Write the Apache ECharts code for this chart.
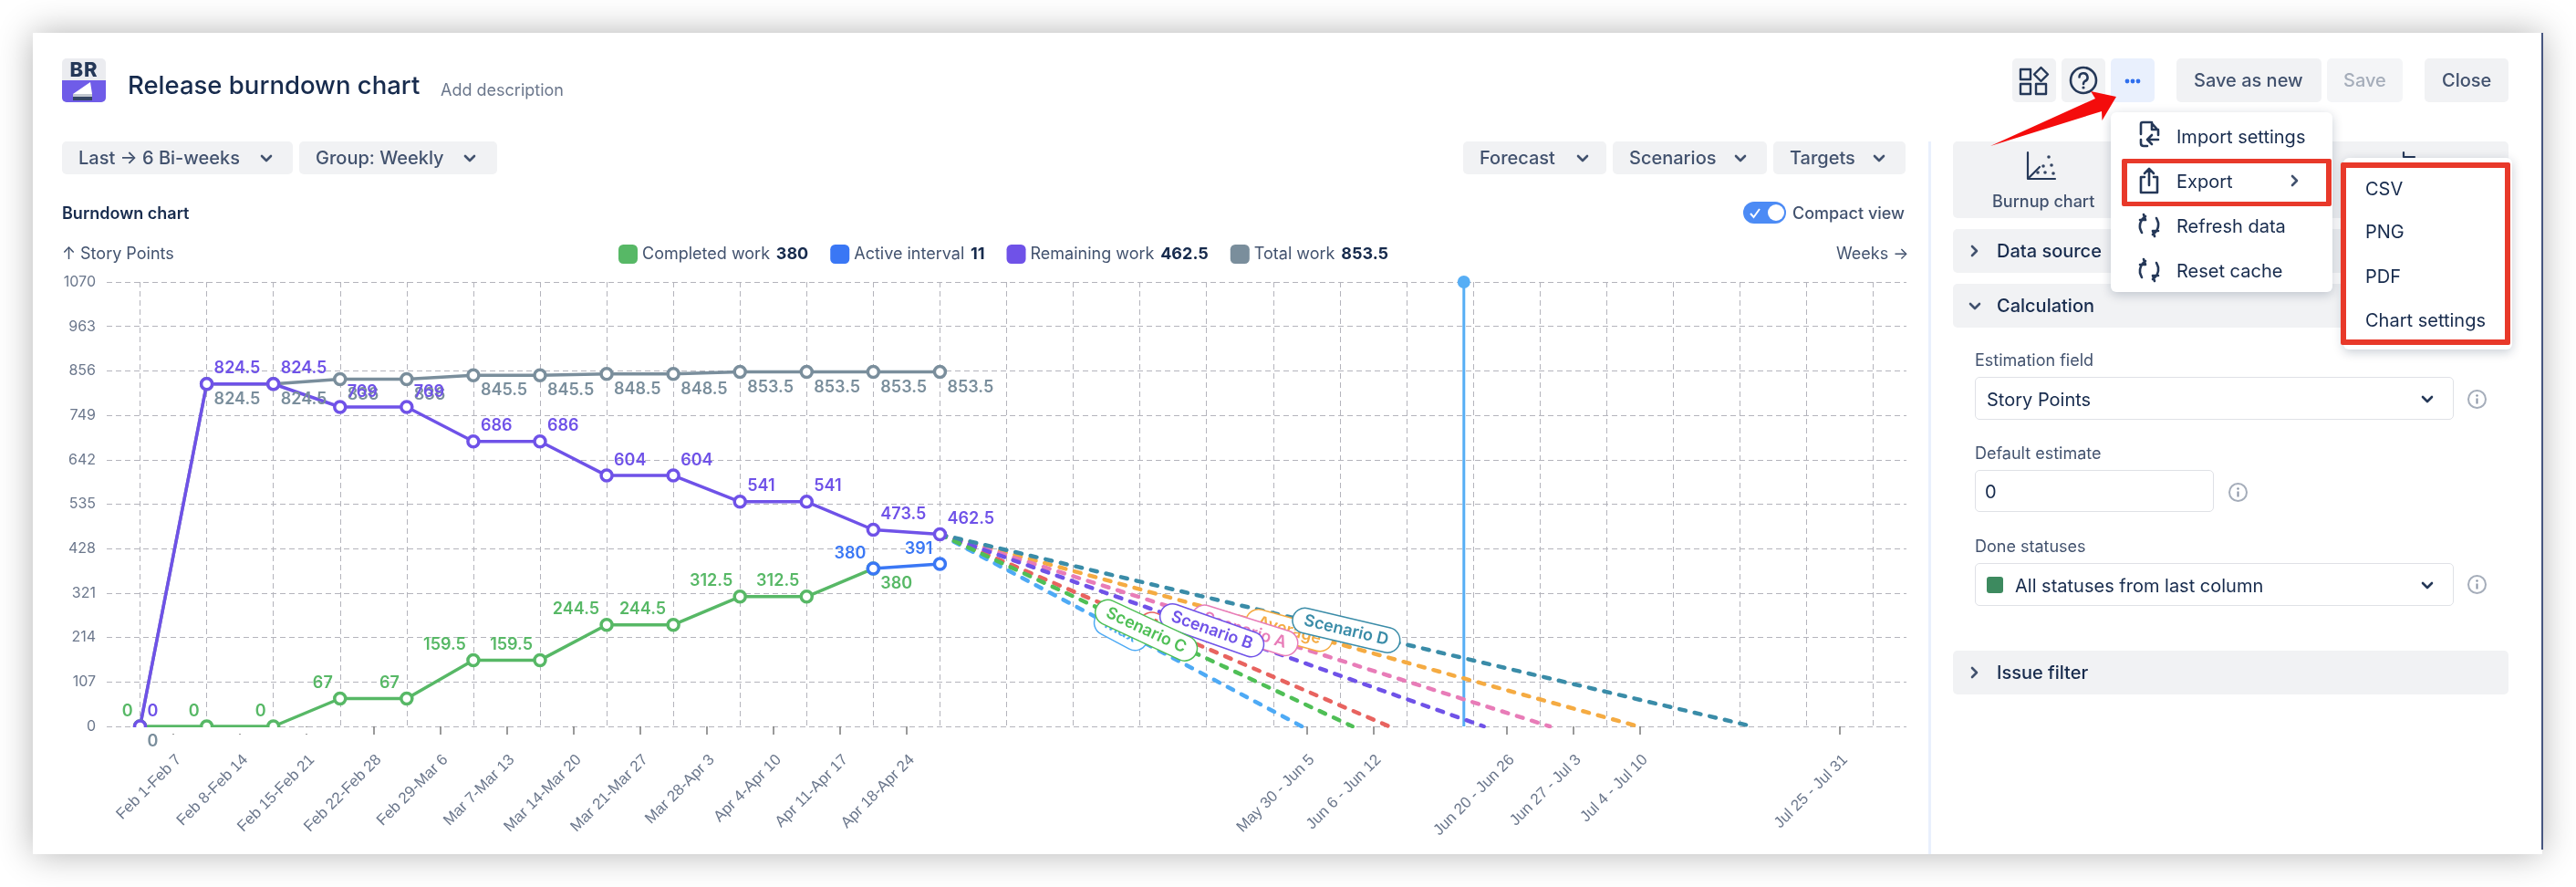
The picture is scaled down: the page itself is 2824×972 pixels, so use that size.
<!DOCTYPE html>
<html>
<head>
<meta charset="utf-8">
<title>Release burndown chart</title>
<script src="https://cdn.jsdelivr.net/npm/echarts@6/dist/echarts.min.js"></script>
<style>
    html, body { margin: 0; padding: 0; width: 2824px; height: 972px; background: #fff; overflow: hidden; font-family: Inter, sans-serif; color: #172b4d; }
    .card { position: absolute; left: 36px; top: 36px; width: 2751px; height: 900px; background: #fff; box-shadow: 0 0 36px rgba(0,0,0,.3); }
    .edge { position: absolute; left: 2786px; top: 36px; width: 2px; height: 895px; background: #46557f; }
    #chart { position: absolute; left: 0; top: 0; width: 2824px; height: 972px; z-index: 1; }
    .ui { position: absolute; left: 0; top: 0; width: 2824px; height: 972px; z-index: 2; pointer-events: none; }
    .t { position: absolute; white-space: nowrap; line-height: 28px; font-size: 20px; }
    .s { font-size: 18px; color: #42526e; }
    .btn { position: absolute; background: #f1f2f4; border-radius: 5px; }
    .btn .t { color: #42526e; font-weight: 500; }
    .head { position: absolute; left: 2141px; width: 609px; height: 48px; background: #f1f2f4; border-radius: 5px; }
    .head .t { left: 48px; top: 10px; font-weight: 500; }
    .box { position: absolute; background: #fff; border: 1.5px solid #dfe1e6; border-radius: 5px; box-sizing: border-box; }
    .red { position: absolute; box-sizing: border-box; border: 6px solid #e8392a; border-radius: 2px; }
    svg { position: absolute; overflow: visible; }
    .chev { fill: none; stroke: #42526e; stroke-width: 2.6; stroke-linecap: round; stroke-linejoin: round; }
    .ico { fill: none; stroke: #253858; stroke-width: 2.6; stroke-linecap: round; stroke-linejoin: round; }
</style>
</head>
<body>
<div class="card"></div>
<div class="edge"></div>
<div id="chart"></div>
<div class="ui">
    <!-- title -->
    <div style="position:absolute;left:68px;top:64px;width:48px;height:48px;border-radius:5px;overflow:hidden;background:#ebecf0;">
        <div style="position:absolute;left:0;right:0;top:0;text-align:center;font-weight:800;font-size:22px;letter-spacing:1px;line-height:25px;color:#253858;">BR</div>
        <div style="position:absolute;left:0;right:0;top:24px;height:24px;background:#6f5ce8;"></div>
        <svg style="left:0;top:24px" width="48" height="24"><path d="M31 2 L12 15 L33 15 Z" fill="#fff"/><path d="M12 15 L33 15 L33 18 L12 18 Z" fill="#c1c7d0"/><path d="M12 18 L33 18 L33 22 L12 22 Z" fill="#344563"/></svg>
    </div>
    <div class="t" style="left:140px;top:79px;font-size:27.5px;font-weight:500;">Release burndown chart</div>
    <div class="t s" style="left:483px;top:85px;color:#6b778c;">Add description</div>

    <!-- filters -->
    <div class="btn" style="left:68px;top:155px;width:253px;height:36px;"><div class="t" style="left:18px;top:4px;">Last → 6 Bi-weeks</div><svg style="left:217px;top:15px" width="14" height="8"><path class="chev" d="M2 1 L7 6 L12 1"/></svg></div>
    <div class="btn" style="left:328px;top:155px;width:217px;height:36px;"><div class="t" style="left:18px;top:4px;">Group: Weekly</div><svg style="left:180px;top:15px" width="14" height="8"><path class="chev" d="M2 1 L7 6 L12 1"/></svg></div>
    <div class="btn" style="left:1604px;top:155px;width:157px;height:36px;"><div class="t" style="left:18px;top:4px;">Forecast</div><svg style="left:124px;top:15px" width="14" height="8"><path class="chev" d="M2 1 L7 6 L12 1"/></svg></div>
    <div class="btn" style="left:1768px;top:155px;width:169px;height:36px;"><div class="t" style="left:18px;top:4px;">Scenarios</div><svg style="left:133px;top:15px" width="14" height="8"><path class="chev" d="M2 1 L7 6 L12 1"/></svg></div>
    <div class="btn" style="left:1944px;top:155px;width:145px;height:36px;"><div class="t" style="left:18px;top:4px;">Targets</div><svg style="left:109px;top:15px" width="14" height="8"><path class="chev" d="M2 1 L7 6 L12 1"/></svg></div>

    <!-- chart header -->
    <div class="t" style="left:68px;top:220px;font-size:18px;font-weight:600;">Burndown chart</div>
    <div style="position:absolute;left:1911px;top:221px;width:47px;height:24px;border-radius:12px;background:#4c8bf5;"></div>
    <div style="position:absolute;left:1938px;top:224px;width:18px;height:18px;border-radius:9px;background:#fff;"></div>
    <svg style="left:1918px;top:228px" width="14" height="12"><path d="M1 6 L4.5 10 L11 1" fill="none" stroke="#fff" stroke-width="2"/></svg>
    <div class="t s" style="left:1965px;top:220px;font-weight:500;">Compact view</div>
    <div class="t s" style="left:68px;top:264px;color:#42526e;">↑ Story Points</div>
    <div class="t s" style="left:2013px;top:264px;">Weeks →</div>

    <!-- toolbar -->
    <div class="btn" style="left:2206px;top:64px;width:48px;height:48px;"><svg style="left:8px;top:9px" width="32" height="32"><g class="ico" style="stroke-width:2.4"><rect x="1" y="3" width="11" height="11"/><rect x="1" y="19" width="11" height="11"/><rect x="18" y="19" width="11" height="11"/><path d="M23.5 1 L31 8.5 L23.5 16 L16 8.5 Z"/></g></svg></div>
    <div class="btn" style="left:2260px;top:64px;width:48px;height:48px;"><svg style="left:9px;top:9px" width="30" height="30"><circle class="ico" cx="15" cy="15" r="14"/><path class="ico" d="M10.5 11.5 A4.5 4.5 0 1 1 16.5 16 Q15 17 15 19"/><circle cx="15" cy="23" r="1.6" fill="#253858"/></svg></div>
    <div class="btn" style="left:2314px;top:64px;width:48px;height:48px;background:#e9f0fd;"><svg style="left:15px;top:22px" width="18" height="6"><circle cx="3" cy="3" r="2.4" fill="#2f6fed"/><circle cx="9" cy="3" r="2.4" fill="#2f6fed"/><circle cx="15" cy="3" r="2.4" fill="#2f6fed"/></svg></div>
    <div class="btn" style="left:2386px;top:64px;width:159px;height:48px;"><div class="t" style="left:19px;top:10px;">Save as new</div></div>
    <div class="btn" style="left:2551px;top:64px;width:83px;height:48px;background:#f4f5f7;"><div class="t" style="left:18px;top:10px;color:#a5adba;">Save</div></div>
    <div class="btn" style="left:2658px;top:64px;width:92px;height:48px;"><div class="t" style="left:19px;top:10px;">Close</div></div>

    <!-- side panel -->
    <div style="position:absolute;left:2114px;top:155px;width:3px;height:781px;background:#e9f0fd;"></div>
    <div class="btn" style="left:2141px;top:155px;width:609px;height:84px;">
        <svg style="left:81px;top:12px" width="32" height="30"><path class="ico" d="M1 0 L1 29 L31 29 M3 27 L14 16" style="stroke-width:2.2"/><g fill="#344563"><circle cx="12" cy="22" r="1.8"/><circle cx="20" cy="22" r="1.8"/><circle cx="29" cy="23" r="1.8"/><circle cx="18" cy="15" r="1.8"/><circle cx="27" cy="14" r="1.8"/><circle cx="24" cy="5" r="1.8"/></g></svg>
        <div class="t s" style="left:43px;top:52px;font-weight:500;">Burnup chart</div>
        <svg style="left:493px;top:12px" width="13" height="6"><path class="ico" d="M1 0 L1 5 L13 5" style="stroke-width:2.2"/></svg>
    </div>
    <div class="head" style="top:251px;"><svg style="left:19px;top:17px" width="10" height="14"><path class="chev" d="M2 2 L7 7 L2 12"/></svg><div class="t">Data source</div></div>
    <div class="head" style="top:311px;"><svg style="left:17px;top:20px" width="14" height="10"><path class="chev" d="M2 2 L7 7 L12 2"/></svg><div class="t">Calculation</div></div>

    <div class="t s" style="left:2165px;top:381px;">Estimation field</div>
    <div class="box" style="left:2165px;top:413px;width:525px;height:47px;"></div>
    <div class="t" style="left:2178px;top:424px;">Story Points</div>
    <svg style="left:2654px;top:433px" width="14" height="10"><path class="chev" d="M2 2 L7 7 L12 2" style="stroke:#253858"/></svg>
    <svg style="left:2705px;top:427px" width="21" height="21"><circle cx="10.5" cy="10.5" r="9.5" fill="none" stroke="#a5adba" stroke-width="2"/><path d="M10.5 9.5 L10.5 15.5" stroke="#8993a4" stroke-width="2"/><circle cx="10.5" cy="6.5" r="1.2" fill="#8993a4"/></svg>

    <div class="t s" style="left:2165px;top:483px;">Default estimate</div>
    <div class="box" style="left:2165px;top:515px;width:262px;height:46px;"></div>
    <div class="t" style="left:2176px;top:525px;">0</div>
    <svg style="left:2442.5px;top:529px" width="21" height="21"><circle cx="10.5" cy="10.5" r="9.5" fill="none" stroke="#a5adba" stroke-width="2"/><path d="M10.5 9.5 L10.5 15.5" stroke="#8993a4" stroke-width="2"/><circle cx="10.5" cy="6.5" r="1.2" fill="#8993a4"/></svg>

    <div class="t s" style="left:2165px;top:585px;">Done statuses</div>
    <div class="box" style="left:2165px;top:617px;width:525px;height:47px;"></div>
    <div style="position:absolute;left:2178px;top:632px;width:18px;height:18px;border-radius:3px;background:#3d8a5f;"></div>
    <div class="t" style="left:2209px;top:628px;">All statuses from last column</div>
    <svg style="left:2654px;top:637px" width="14" height="10"><path class="chev" d="M2 2 L7 7 L12 2" style="stroke:#253858"/></svg>
    <svg style="left:2705px;top:630px" width="21" height="21"><circle cx="10.5" cy="10.5" r="9.5" fill="none" stroke="#a5adba" stroke-width="2"/><path d="M10.5 9.5 L10.5 15.5" stroke="#8993a4" stroke-width="2"/><circle cx="10.5" cy="6.5" r="1.2" fill="#8993a4"/></svg>

    <div class="head" style="top:713px;"><svg style="left:19px;top:17px" width="10" height="14"><path class="chev" d="M2 2 L7 7 L2 12"/></svg><div class="t">Issue filter</div></div>

    <!-- open menu -->
    <div style="position:absolute;left:2314px;top:123px;width:243px;height:197px;background:#fff;border-radius:6px;box-shadow:0 3px 12px rgba(9,30,66,.22);"></div>
    <svg style="left:2342px;top:133px" width="26" height="28"><path class="ico" d="M5 14 L5 3 Q5 1 7 1 L16 1 L24 10 L24 15 M17 1 L17 9 L24 9 M5 20 L5 24 Q5 27 8 27 L12 27 M24 20 L12 20 M17 15 L12 20 L17 25"/></svg>
    <div class="t" style="left:2386px;top:136px;">Import settings</div>
    <svg style="left:2345px;top:183px" width="22" height="30"><path class="ico" d="M6 11 L2 11 L2 28 L20 28 L20 11 L16 11 M11 20 L11 2 M6 7 L11 2 L16 7"/></svg>
    <div class="t" style="left:2386px;top:185px;">Export</div>
    <svg style="left:2511px;top:191px" width="10" height="14"><path class="chev" d="M2 2 L7 7 L2 12" style="stroke:#42526e"/></svg>
    <svg style="left:2344px;top:234px" width="24" height="26"><path class="ico" d="M8 3 Q1 8 2 16 Q3 19 4 21 M6 1 L8 7 L2 7 M16 23 Q23 18 22 10 Q21 7 20 5 M18 25 L16 19 L22 19"/></svg>
    <div class="t" style="left:2386px;top:234px;">Refresh data</div>
    <svg style="left:2344px;top:283px" width="24" height="26"><path class="ico" d="M8 3 Q1 8 2 16 Q3 19 4 21 M6 1 L8 7 L2 7 M16 23 Q23 18 22 10 Q21 7 20 5 M18 25 L16 19 L22 19"/></svg>
    <div class="t" style="left:2386px;top:283px;">Reset cache</div>
    <div class="red" style="left:2326px;top:174px;width:230px;height:52px;border-width:5px 6px;"></div>

    <div style="position:absolute;left:2569px;top:173px;width:185px;height:210px;background:#fff;border-radius:6px;box-shadow:0 3px 12px rgba(9,30,66,.22);"></div>
    <div class="t" style="left:2593px;top:193px;">CSV</div>
    <div class="t" style="left:2593px;top:240px;">PNG</div>
    <div class="t" style="left:2593px;top:289px;">PDF</div>
    <div class="t" style="left:2593px;top:337px;">Chart settings</div>
    <div class="red" style="left:2566px;top:178px;width:186px;height:200px;"></div>

    <svg style="left:0;top:0" width="2824" height="972"><polygon points="2320,106 2292,100 2297,108 2182,160 2304,122 2304.5,132" fill="#f40c0c"/></svg>
</div>

<script>
    // x positions are in weeks counted from the left plot edge
    var weekPos = [0.5, 1.5, 2.5, 3.5, 4.5, 5.5, 6.5, 7.5, 8.5, 9.5, 10.5, 11.5, 12.5];
    var completedWork = [0, 0, 0, 67, 67, 159.5, 159.5, 244.5, 244.5, 312.5, 312.5, 380];
    var activeInterval = [380, 391];
    var remainingWork = [0, 824.5, 824.5, 769, 769, 686, 686, 604, 604, 541, 541, 473.5, 462.5];
    var totalWork = [0, 824.5, 824.5, 836, 836, 845.5, 845.5, 848.5, 848.5, 853.5, 853.5, 853.5, 853.5];

    var scenarioNames = ['Max', 'Min', 'Average', 'Scenario A', 'Scenario B', 'Scenario C', 'Scenario D'];
    var scenarioEnds = [17.93, 19.24, 22.98, 21.65, 20.66, 18.69, 24.69];
    var scenarioColors = ['#4eaaf5', '#e8635f', '#f5ab42', '#e87cb8', '#6f52e8', '#4fbf56', '#3a8ca8'];

    var todayPos = 20.36;

    var tickPos = [1, 2, 3, 4, 5, 6, 7, 8, 9, 10, 11, 12, 18, 19, 21, 22, 23, 26];
    var tickLabels = ['Feb 1-Feb 7', 'Feb 8-Feb 14', 'Feb 15-Feb 21', 'Feb 22-Feb 28', 'Feb 29-Mar 6', 'Mar 7-Mar 13',
        'Mar 14-Mar 20', 'Mar 21-Mar 27', 'Mar 28-Apr 3', 'Apr 4-Apr 10', 'Apr 11-Apr 17', 'Apr 18-Apr 24',
        'May 30 - Jun 5', 'Jun 6 - Jun 12', 'Jun 20 - Jun 26', 'Jun 27 - Jul 3', 'Jul 4 - Jul 10', 'Jul 25 - Jul 31'];
    var gridWeeks = [];
    for (var w = 0; w < 27; w++) { gridWeeks.push(w); }

    var legendValues = { 'Completed work': '380', 'Active interval': '11', 'Remaining work': '462.5', 'Total work': '853.5' };
    var colors = { green: '#57b866', blue: '#3a77f5', purple: '#6f52e8', gray: '#7a8e9c' };

    var GRID = { left: 117, right: 2090, top: 309, bottom: 796 };

    // label layouts used by the measured series
    function labelAt(side, color) {
        var below = side.indexOf('below') === 0;
        var left = side.indexOf('Left') > 0;
        return {
            show: true,
            position: below ? 'bottom' : 'top',
            distance: 0,
            align: left ? 'right' : 'left',
            offset: [left ? -8 : 8, 0],
            color: color,
            fontFamily: 'Inter',
            fontSize: 18,
            fontWeight: 600,
            lineHeight: 18
        };
    }

    function mark(name, xs, ys, color, side, sides) {
        return {
            name: name,
            type: 'line',
            xAxisIndex: 0,
            yAxisIndex: 0,
            data: ys.map(function (y, i) {
                var d = { value: [xs[i], y] };
                if (sides && sides[i]) { d.label = labelAt(sides[i], color); }
                return d;
            }),
            symbol: 'circle',
            symbolSize: 12,
            showAllSymbol: true,
            lineStyle: { color: color, width: 3.5 },
            itemStyle: { color: '#fff', borderColor: color, borderWidth: 3.5 },
            label: labelAt(side, color),
            emphasis: { disabled: true }
        };
    }

    var series = [];
    series.push({
        name: 'Today',
        type: 'line',
        data: [{ value: [todayPos, 0], symbol: 'none' }, { value: [todayPos, 1070] }],
        symbol: 'circle',
        symbolSize: 14,
        clip: false,
        lineStyle: { color: '#57aef5', width: 3 },
        itemStyle: { color: '#57aef5' },
        emphasis: { disabled: true }
    });
    series.push(mark('Total work', weekPos, totalWork, colors.gray, 'belowRight'));
    series.push(mark('Completed work', weekPos, completedWork, colors.green, 'aboveLeft', { 11: 'belowRight' }));
    series.push(mark('Remaining work', weekPos, remainingWork, colors.purple, 'aboveRight'));
    series.push(mark('Active interval', weekPos.slice(11), activeInterval, colors.blue, 'aboveLeft'));

    scenarioNames.forEach(function (name, i) {
        var x0 = weekPos[12], y0 = remainingWork[12];
        series.push({
            name: name,
            type: 'line',
            z: 3,
            data: [[x0, y0], [scenarioEnds[i], 0]],
            symbol: 'none',
            lineStyle: { color: scenarioColors[i], width: 4.5, type: [7, 10], cap: 'round' },
            emphasis: { disabled: true },
            markLine: {
                silent: true,
                symbol: 'none',
                animation: false,
                z: 20 + i,
                lineStyle: { width: 0, color: 'transparent' },
                label: {
                    show: true,
                    position: 'middle',
                    distance: 0,
                    verticalAlign: 'middle',
                    formatter: name,
                    color: scenarioColors[i],
                    fontFamily: 'Inter',
                    fontSize: 18,
                    fontWeight: 600,
                    backgroundColor: '#fff',
                    borderColor: scenarioColors[i],
                    borderWidth: 1.5,
                    borderRadius: 13,
                    padding: [4, 12]
                },
                data: [[{ coord: [x0, y0] }, { coord: [scenarioEnds[i], 0] }]]
            }
        });
    });

    var gridLine = { color: '#b4b4bc', width: 1.2, type: [6, 4] };

    var chart = echarts.init(document.getElementById('chart'));
    chart.setOption({
        animation: false,
        textStyle: { fontFamily: 'Inter' },
        legend: {
            left: 678,
            top: 268,
            padding: 0,
            itemWidth: 21,
            itemHeight: 21,
            itemGap: 24,
            selectedMode: false,
            icon: 'roundRect',
            itemStyle: { borderWidth: 0 },
            data: [
                { name: 'Completed work', itemStyle: { color: colors.green, borderWidth: 0 } },
                { name: 'Active interval', itemStyle: { color: colors.blue, borderWidth: 0 } },
                { name: 'Remaining work', itemStyle: { color: colors.purple, borderWidth: 0 } },
                { name: 'Total work', itemStyle: { color: colors.gray, borderWidth: 0 } }
            ],
            formatter: function (name) {
                return '{n|' + name + '}  {v|' + legendValues[name] + '}';
            },
            textStyle: {
                rich: {
                    n: { fontFamily: 'Inter', fontSize: 18, color: '#42526e' },
                    v: { fontFamily: 'Inter', fontSize: 18, fontWeight: 700, color: '#172b4d' }
                }
            }
        },
        grid: { left: GRID.left, top: GRID.top, width: GRID.right - GRID.left, height: GRID.bottom - GRID.top, containLabel: false },
        xAxis: [
            {
                type: 'value',
                min: 0,
                max: 27,
                interval: 1,
                offset: 6,
                splitLine: { show: false },
                axisLine: { show: false },
                axisTick: { show: true, length: 9, customValues: tickPos, lineStyle: { color: '#7a7a7a', width: 1.5 } },
                axisLabel: {
                    customValues: tickPos,
                    rotate: 45,
                    margin: 22,
                    verticalAlign: 'top',
                    fontFamily: 'Liberation Sans',
                    fontSize: 17,
                    color: '#6b778c',
                    formatter: function (v) { return tickLabels[tickPos.indexOf(v)]; }
                }
            },
            {
                // only carries the vertical grid lines, they sit on the data points
                type: 'category',
                boundaryGap: true,
                position: 'bottom',
                data: gridWeeks,
                axisLine: { show: false },
                axisTick: { show: false },
                axisLabel: { show: false },
                splitLine: { show: true, interval: 0, alignWithLabel: true, lineStyle: { color: '#b4b4bc', width: 1, type: [6, 4] } }
            }
        ],
        yAxis: {
            type: 'value',
            min: 0,
            max: 1070,
            interval: 107,
            axisLine: { show: false },
            axisTick: { show: false },
            axisLabel: { margin: 12, fontFamily: 'Inter', fontSize: 16, color: '#6b778c', formatter: function (v) { return String(v); } },
            splitLine: { show: true, lineStyle: gridLine }
        },
        // the zero markers are cut by the plot edge in the tool, hide their lower half
        graphic: [{
            type: 'rect',
            z: 20,
            silent: true,
            shape: { x: GRID.left + 20, y: GRID.bottom + 1, width: 200, height: 7 },
            style: { fill: '#fff' }
        }],
        series: series
    });
</script>
</body>
</html>
